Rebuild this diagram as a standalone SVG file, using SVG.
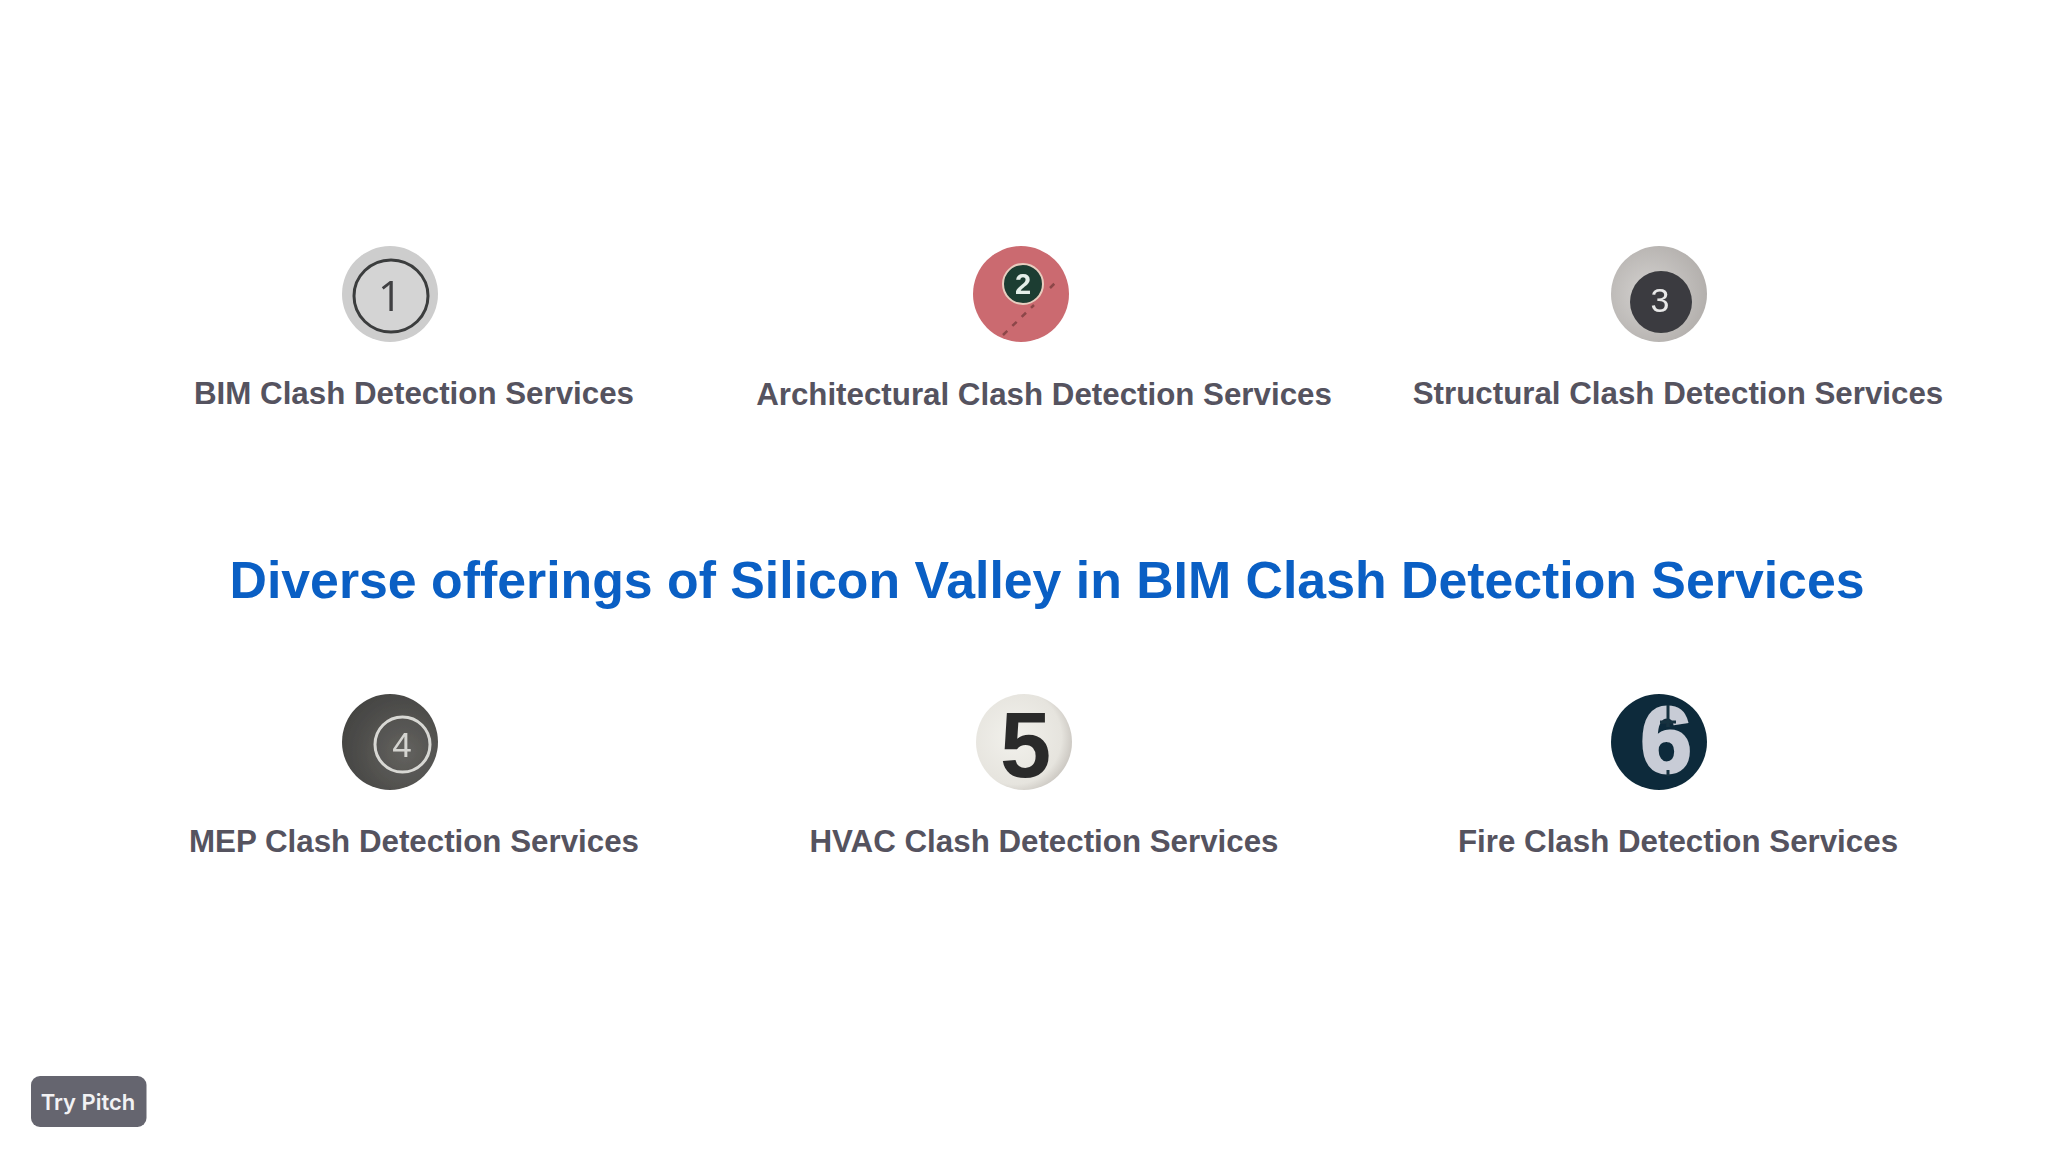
<svg xmlns="http://www.w3.org/2000/svg" width="2048" height="1152" viewBox="0 0 2048 1152">
<style>
.l{font:bold 31.3px "Liberation Sans",Arial,sans-serif;fill:#55535f;text-anchor:middle}
.t{font:bold 51.8px "Liberation Sans",Arial,sans-serif;fill:#0a5fc4;text-anchor:middle}
.d{font-family:"Liberation Sans",Arial,sans-serif;text-anchor:middle}
</style>
<defs>
<filter id="b" x="-10%" y="-10%" width="120%" height="120%"><feGaussianBlur stdDeviation="0.7"/></filter>
<radialGradient id="g4" cx="0.65" cy="0.6" r="0.8"><stop offset="0" stop-color="#63625f"/><stop offset="1" stop-color="#3f3f3d"/></radialGradient>
<radialGradient id="g5" cx="0.4" cy="0.45" r="0.7"><stop offset="0" stop-color="#f2f1ec"/><stop offset="0.7" stop-color="#e6e4de"/><stop offset="1" stop-color="#b9b4ae"/></radialGradient>
<radialGradient id="g3" cx="0.4" cy="0.5" r="0.7"><stop offset="0" stop-color="#d4d2d0"/><stop offset="1" stop-color="#aeaaa7"/></radialGradient>
</defs>
<rect width="2048" height="1152" fill="#fff"/>
<g id="node-1" filter="url(#b)">
<circle cx="390" cy="294" r="48" fill="#cdcdcd"/>
<ellipse cx="391" cy="296" rx="37" ry="36" fill="#d4d4d4" stroke="#3b3c3e" stroke-width="3"/>
<text x="390" y="311" font-family="'Open Sans',sans-serif" font-size="42" fill="#3f4043" text-anchor="middle">1</text>
</g>
<g id="node-2" filter="url(#b)">
<circle cx="1021" cy="294" r="48" fill="#cb6a70"/>
<path d="M1003 335L1034 305M1050 288L1058 280" stroke="#8c4648" stroke-width="2.500" stroke-dasharray="6 7" fill="none"/>
<circle cx="1023" cy="284" r="20" fill="#1f3d33" stroke="#e8cdbf" stroke-width="2"/>
<text class="d" x="1023" y="294" font-size="29" font-weight="bold" fill="#e4eee9">2</text>
</g>
<g id="node-3" filter="url(#b)">
<circle cx="1659" cy="294" r="48" fill="url(#g3)"/>
<circle cx="1661" cy="302" r="31" fill="#3a3b3f"/>
<text class="d" x="1660" y="312" font-size="34" fill="#e8e8e8">3</text>
</g>
<g id="title-group">
<text id="title" class="t" x="1047" y="598">Diverse offerings of Silicon Valley in BIM Clash Detection Services</text>
</g>
<g id="node-4" filter="url(#b)">
<circle cx="390" cy="742" r="48" fill="url(#g4)"/>
<circle cx="402.500" cy="744.500" r="27.500" fill="none" stroke="#d8d8d4" stroke-width="3"/>
<text class="d" x="402" y="757" font-size="35" fill="#d4d4d0">4</text>
</g>
<g id="node-5" filter="url(#b)">
<circle cx="1024" cy="742" r="48" fill="url(#g5)"/>
<text class="d" x="1025.500" y="777" font-size="92" font-weight="bold" fill="#2c2c2c">5</text>
</g>
<g id="node-6" filter="url(#b)">
<circle cx="1659" cy="742" r="48" fill="#0f2b3b"/>
<text class="d" x="1666" y="772" font-size="92" font-weight="bold" fill="#c8ccd6" stroke="#c8ccd6" stroke-width="3">6</text>
<path d="M1668 705V727M1660 722H1676M1668 770V776" stroke="#16303f" stroke-width="3" fill="none"/>
</g>
<g id="labels">
<text class="l" x="414" y="404">BIM Clash Detection Services</text>
<text class="l" x="1044" y="405">Architectural Clash Detection Services</text>
<text class="l" x="1678" y="404">Structural Clash Detection Services</text>
<text class="l" x="414" y="852">MEP Clash Detection Services</text>
<text class="l" x="1044" y="852">HVAC Clash Detection Services</text>
<text class="l" x="1678" y="852">Fire Clash Detection Services</text>
</g>
<g id="try-pitch">
<rect x="31" y="1076" width="115.500" height="51" rx="9" fill="#65656f"/>
<text x="88" y="1110" font-family="Inter,'Open Sans',sans-serif" font-weight="600" font-size="22" fill="#f2f2f4" text-anchor="middle">Try Pitch</text>
</g>
</svg>
